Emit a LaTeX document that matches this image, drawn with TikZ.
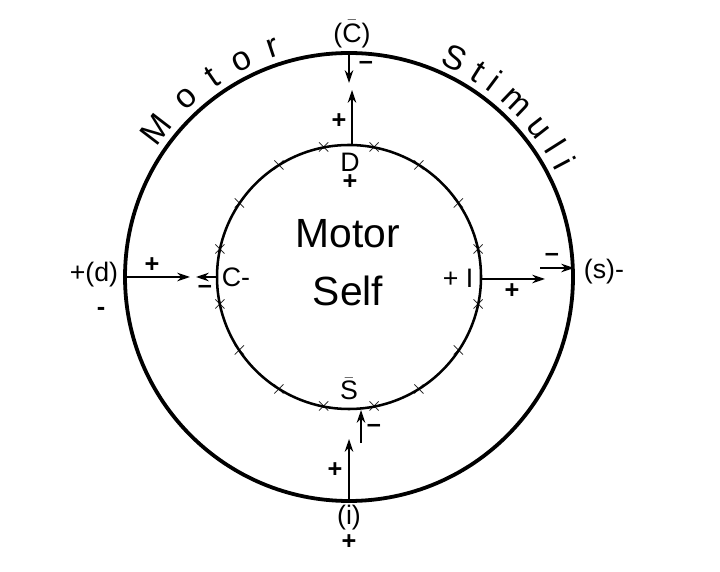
\documentclass[tikz,border=0pt]{standalone}
\usepackage{fontspec}
\setmainfont{Liberation Sans}
\usetikzlibrary{arrows.meta,decorations.text,calc}
\tikzset{
  ring/.style={line width=2.7pt},
  self/.style={line width=1.8pt},
  flow/.style={line width=1.3pt,-{Stealth[length=9pt,width=6pt]}},
  sign/.style={font=\fontsize{18}{20}\selectfont\bfseries,inner sep=1pt},
  lbl/.style={font=\fontsize{19}{22}\selectfont,inner sep=1pt},
  big/.style={font=\fontsize{29}{33}\selectfont},
  tick/.style={font=\fontsize{14}{15}\selectfont\bfseries,inner sep=0pt}
}
\begin{document}
\begin{tikzpicture}[x=0.025cm,y=0.025cm]
  \useasboundingbox (0,0) rectangle (720,571);
  \coordinate (o) at (349,294);
  % circles
  \draw[ring] (o) circle (224);
  \draw[self] (o) circle (132);
  \foreach \a in {11,32,56,78}{
    \node[tick] at ($(o)+(90+\a:132)$) {$\times$};
    \node[tick] at ($(o)+(90-\a:132)$) {$\times$};
    \node[tick] at ($(o)+(270+\a:132)$) {$\times$};
    \node[tick] at ($(o)+(270-\a:132)$) {$\times$};
  }
  % curved titles
  \path[decorate,decoration={text along path,text align=fit to path,
      text={|\fontsize{24}{28}\selectfont|Motor}}] ($(o)+(146:232)$) arc (146:107:232);
  \path[decorate,decoration={text along path,text align=fit to path,
      text={|\fontsize{24}{28}\selectfont|Stimuli}}] ($(o)+(67:232)$) arc (67:27:232);
  \node[big] (mot) at (348,337) {Motor};
  \node[big] (slf) at (348,280) {Self};
  % top
  \node[lbl] (cb) at (352,537) {($\bar{\mathrm{C}}$)};
  \coordinate (ct) at (349,518);
  \coordinate (ce) at (349,488);
  \draw[flow] (ct) -- (ce);
  \node[sign] at (366,506) {--};
  \coordinate (dt) at (352,426);
  \coordinate (de) at (352,481);
  \draw[flow] (dt) -- (de);
  \node[sign] at (339,450) {+};
  \node[lbl] (d) at (350,409) {D};
  \node[sign] at (350,389) {+};
  % left
  \node[lbl] (dl) at (94,296) {+(d)};
  \node[sign] at (101,260) {-};
  \coordinate (lo) at (125,294);
  \coordinate (le) at (190,294);
  \draw[flow] (lo) -- (le);
  \node[sign] at (152,306) {+};
  \coordinate (li) at (216,294);
  \coordinate (lie) at (196,294);
  \draw[flow] (li) -- (lie);
  \node[sign] at (205,282) {--};
  \node[lbl] (c) at (236,294) {C-};
  % right
  \node[lbl] (i) at (458,293) {+ I};
  \coordinate (ri) at (482,292);
  \coordinate (re) at (545,292);
  \draw[flow] (ri) -- (re);
  \node[sign] at (512,280) {+};
  \coordinate (rs) at (540,303);
  \coordinate (rse) at (574,303);
  \draw[flow] (rs) -- (rse);
  \node[sign] at (552,314) {--};
  \node[lbl] (s) at (604,299) {(s)-};
  % bottom
  \node[lbl] (sb) at (349,182) {$\bar{\mathrm{S}}$};
  \coordinate (bo) at (349,71);
  \coordinate (be) at (349,132);
  \draw[flow] (bo) -- (be);
  \node[sign] at (335,101) {+};
  \coordinate (bs) at (361,128);
  \coordinate (bse) at (361,161);
  \draw[flow] (bs) -- (bse);
  \node[sign] at (374,143) {--};
  \node[lbl] (ib) at (349,53) {(i)};
  \node[sign] at (349,29) {+};
\end{tikzpicture}
\end{document}
